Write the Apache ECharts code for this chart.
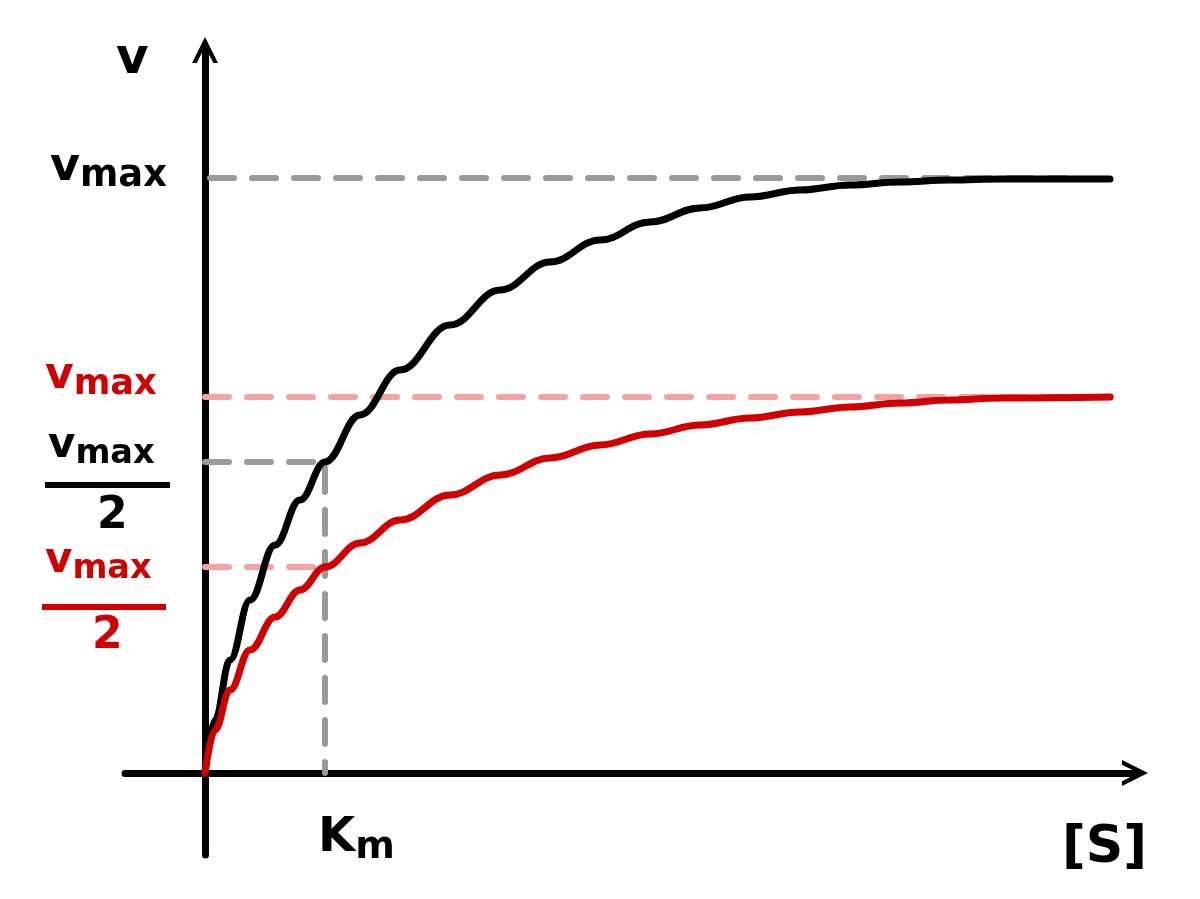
<!DOCTYPE html>
<html><head><meta charset="utf-8">
<script src="https://cdn.jsdelivr.net/npm/echarts@6/dist/echarts.min.js"></script>
<style>html,body{margin:0;background:#fff}#c{width:1200px;height:899px}</style>
</head><body><div id="c"></div>
<script>
// units: x = [S], y = v (arbitrary)
const sValues = [0,10,25,45,70,95,120,155,195,245,295,345,395,445,495,545,595,645,695,745,795,905];
const blackV = [0,53,113,173,228,273,311,358,403,448,483,511,533,551,565,576,583,588,591,593,594,594];
const redV = [0,43,83,123,156,183,206,230,253,278,298,315,328,339,348,355,361,366,370,373,375,376];
const vmaxLine = [[5,595],[860,595]];
const vmaxRedLine = [[0,376],[920,376]];
const halfBlack = [[0,311],[120,311],[120,0]];
const halfRed = [[0,206],[120,206]];

const chart = echarts.init(document.getElementById('c'));
const chevron = 'path://M0,22 L11,0 L22,22 L18,22 L11,8 L4,22 Z';
const ax = { lineStyle: { color: '#000', width: 7, cap: 'round' }, symbol: ['none', chevron], symbolSize: [30, 26], onZero: true };
const font = 'DejaVu Sans';
function vmax(color, size) {
  return { type: 'text', style: { text: '{a|v}{b|max}', rich: {
    a: { fontSize: size, fontFamily: font, fontWeight: 'bold', fill: color },
    b: { fontSize: size * 0.8, fontFamily: font, fontWeight: 'bold', fill: color, padding: [16, 0, 0, 0] } } } };
}
const g = [];
g.push(Object.assign(vmax('#000', 46), { left: 50, top: 145 }));
g.push(Object.assign(vmax('#d00000', 44), { left: 45, top: 355 }));
g.push(Object.assign(vmax('#000', 42), { left: 48, top: 425 }));
g.push({ type: 'rect', shape: { x: 45, y: 482, width: 125, height: 6 }, style: { fill: '#000' } });
g.push({ type: 'text', left: 97, top: 495, style: { text: '2', fontSize: 44, fontFamily: font, fontWeight: 'bold', fill: '#000' } });
g.push(Object.assign(vmax('#d00000', 42), { left: 45, top: 540 }));
g.push({ type: 'rect', shape: { x: 42, y: 604, width: 124, height: 6 }, style: { fill: '#d00000' } });
g.push({ type: 'text', left: 92, top: 615, style: { text: '2', fontSize: 44, fontFamily: font, fontWeight: 'bold', fill: '#d00000' } });
g.push({ type: 'text', left: 116, top: 35, style: { text: 'v', fontSize: 50, fontFamily: font, fontWeight: 'bold', fill: '#000' } });
g.push({ type: 'text', left: 318, top: 815, style: { text: '{a|K}{b|m}', rich: {
  a: { fontSize: 48, fontFamily: font, fontWeight: 'bold', fill: '#000' },
  b: { fontSize: 38, fontFamily: font, fontWeight: 'bold', fill: '#000', padding: [18, 0, 0, 0] } } } });
g.push({ type: 'text', left: 1062, top: 822, style: { text: '[S]', fontSize: 52, fontFamily: font, fontWeight: 'bold', fill: '#000' } });

const dash = (data, color) => ({ type: 'line', data, symbol: 'none', silent: true,
  lineStyle: { color, width: 6, type: [24, 18], cap: 'round' } });
const curve = (vals, color) => ({ type: 'line', data: sValues.map((s, i) => [s, vals[i]]), smooth: 0.4, smoothMonotone: 'x',
  symbol: 'none', lineStyle: { color, width: 7, cap: 'round' } });

chart.setOption({
  animation: false,
  grid: { left: 125, right: 65, top: 50, bottom: 44 },
  xAxis: { type: 'value', min: -80, max: 930, axisLine: ax, axisTick: { show: false }, axisLabel: { show: false }, splitLine: { show: false } },
  yAxis: { type: 'value', min: -82, max: 723, axisLine: ax, axisTick: { show: false }, axisLabel: { show: false }, splitLine: { show: false } },
  graphic: g,
  series: [
    dash(vmaxLine, '#9a9a9a'),
    dash(vmaxRedLine, '#f4a3a3'),
    dash(halfBlack, '#9a9a9a'),
    dash(halfRed, '#f4a3a3'),
    curve(blackV, '#000'),
    curve(redV, '#d00000')
  ]
});
</script></body></html>
